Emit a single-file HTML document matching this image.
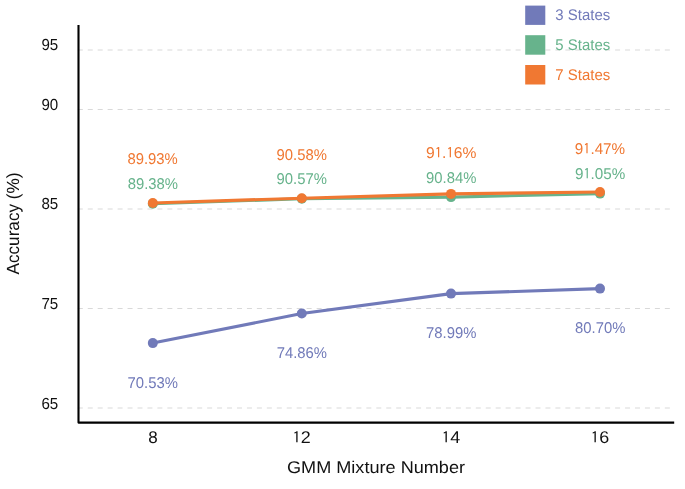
<!DOCTYPE html>
<html><head><meta charset="utf-8"><style>
html,body{margin:0;padding:0;background:#fff;}
body{width:685px;height:489px;overflow:hidden;}
svg{display:block;}
text{font-family:"Liberation Sans","Noto Sans CJK SC",sans-serif;text-rendering:geometricPrecision;}
.one{font-family:"IPAGothic","Liberation Sans",sans-serif;font-size:93.1%;}
</style></head><body>
<svg width="685" height="489" viewBox="0 0 685 489">
<g stroke="#d9d9d9" stroke-width="1" stroke-dasharray="5 4.95" fill="none">
<line x1="77.8" y1="50" x2="674" y2="50"/>
<line x1="77.8" y1="109.5" x2="674" y2="109.5"/>
<line x1="77.8" y1="209" x2="674" y2="209"/>
<line x1="77.8" y1="308.5" x2="674" y2="308.5"/>
<line x1="77.8" y1="408" x2="674" y2="408"/>
</g>
<path d="M78.5 25 V422.6 H674.2" stroke="#000" stroke-width="2.1" fill="none" stroke-linejoin="round"/>
<g font-size="16" fill="#111" text-anchor="end">
<text x="58.2" y="50.1" textLength="16.8" lengthAdjust="spacingAndGlyphs">95</text>
<text x="58.2" y="109.9" textLength="16.8" lengthAdjust="spacingAndGlyphs">90</text>
<text x="58.2" y="209.1" textLength="16.8" lengthAdjust="spacingAndGlyphs">85</text>
<text x="58.2" y="308.8" textLength="16.8" lengthAdjust="spacingAndGlyphs">75</text>
<text x="58.2" y="408.7" textLength="16.8" lengthAdjust="spacingAndGlyphs">65</text>
</g>
<g font-size="17" fill="#111" text-anchor="middle">
<text x="153" y="443">8</text>
<text x="301.6" y="442.8" textLength="18.3" lengthAdjust="spacingAndGlyphs"><tspan class="one">1</tspan>2</text>
<text x="451" y="442.8" textLength="18.4" lengthAdjust="spacingAndGlyphs"><tspan class="one">1</tspan>4</text>
<text x="600" y="442.8" textLength="18.3" lengthAdjust="spacingAndGlyphs"><tspan class="one">1</tspan>6</text>
</g>
<text x="376" y="473.2" font-size="17" fill="#111" text-anchor="middle" textLength="178" lengthAdjust="spacingAndGlyphs">GMM Mixture Number</text>
<text transform="translate(19,223.5) rotate(-90)" x="0" y="0" font-size="17.6" fill="#111" text-anchor="middle" textLength="102" lengthAdjust="spacingAndGlyphs">Accuracy (%)</text>

<!-- 5 states green -->
<polyline points="152.8,203.7 301.8,198.8 451,197.1 600,193.6" stroke="#67b38c" stroke-width="3.1" fill="none" stroke-linejoin="round"/>
<g fill="#67b38c">
<circle cx="152.8" cy="203.7" r="5"/><circle cx="301.8" cy="198.8" r="5"/><circle cx="451" cy="197.1" r="5"/><circle cx="600" cy="193.6" r="5"/>
</g>
<!-- 7 states orange -->
<polyline points="152.8,203 301.8,198.2 451,193.9 600,192" stroke="#f07832" stroke-width="3.1" fill="none" stroke-linejoin="round"/>
<g fill="#f07832">
<circle cx="152.8" cy="203" r="5"/><circle cx="301.8" cy="198.2" r="5"/><circle cx="451" cy="193.9" r="5"/><circle cx="600" cy="192" r="5"/>
</g>
<!-- 3 states blue -->
<polyline points="152.8,343.1 301.8,313.5 451,293.6 600,288.6" stroke="#717ab9" stroke-width="3.1" fill="none" stroke-linejoin="round"/>
<g fill="#717ab9">
<circle cx="152.8" cy="343.1" r="5"/><circle cx="301.8" cy="313.5" r="5"/><circle cx="451" cy="293.6" r="5"/><circle cx="600" cy="288.6" r="5"/>
</g>

<g font-size="15.6" text-anchor="middle">
<g fill="#f07832">
<text x="152.6" y="164" textLength="50.3" lengthAdjust="spacingAndGlyphs">89.93%</text>
<text x="301.7" y="159.7" textLength="50.3" lengthAdjust="spacingAndGlyphs">90.58%</text>
<text x="451.2" y="157.9" textLength="50.3" lengthAdjust="spacingAndGlyphs">9<tspan class="one">1</tspan>.<tspan class="one">1</tspan>6%</text>
<text x="600" y="153.9" textLength="50.3" lengthAdjust="spacingAndGlyphs">9<tspan class="one">1</tspan>.47%</text>
</g>
<g fill="#67b38c">
<text x="152.9" y="189" textLength="50.3" lengthAdjust="spacingAndGlyphs">89.38%</text>
<text x="301.7" y="184.4" textLength="50.3" lengthAdjust="spacingAndGlyphs">90.57%</text>
<text x="451.2" y="182.7" textLength="50.3" lengthAdjust="spacingAndGlyphs">90.84%</text>
<text x="600.1" y="178.7" textLength="50.3" lengthAdjust="spacingAndGlyphs">9<tspan class="one">1</tspan>.05%</text>
</g>
<g fill="#717ab9">
<text x="152.7" y="387.9" textLength="50.3" lengthAdjust="spacingAndGlyphs">70.53%</text>
<text x="301.9" y="358.2" textLength="50.3" lengthAdjust="spacingAndGlyphs">74.86%</text>
<text x="451.2" y="338.2" textLength="50.3" lengthAdjust="spacingAndGlyphs">78.99%</text>
<text x="600.2" y="333.2" textLength="50.3" lengthAdjust="spacingAndGlyphs">80.70%</text>
</g>
</g>

<rect x="525.2" y="5.6" width="20.1" height="19.3" fill="#717ab9"/>
<rect x="525.2" y="35.2" width="20.1" height="19.5" fill="#67b38c"/>
<rect x="525.2" y="65" width="20.1" height="19.5" fill="#f07832"/>
<g font-size="15.5">
<text x="555.3" y="20.2" fill="#717ab9" textLength="54.9" lengthAdjust="spacingAndGlyphs">3 States</text>
<text x="555.3" y="49.9" fill="#67b38c" textLength="54.9" lengthAdjust="spacingAndGlyphs">5 States</text>
<text x="555.3" y="79.5" fill="#f07832" textLength="54.9" lengthAdjust="spacingAndGlyphs">7 States</text>
</g>
</svg>
</body></html>
